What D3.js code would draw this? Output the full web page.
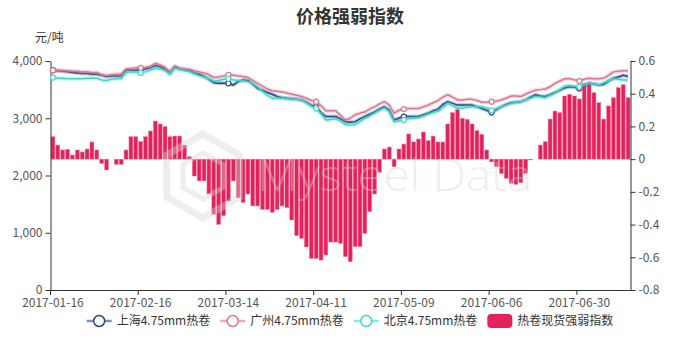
<!DOCTYPE html>
<html><head><meta charset="utf-8">
<script src="https://cdn.jsdelivr.net/npm/d3@7"></script>
<style>
body{margin:0;background:#fff;}
svg{display:block;font-family:"Noto Sans CJK SC","Noto Sans",sans-serif;}
</style>
</head><body>
<svg id="chart" width="700" height="350"></svg>
<script>
const dates = [
"2017-01-16","2017-01-17","2017-01-18","2017-01-19","2017-01-20","2017-01-23","2017-01-24","2017-01-25","2017-01-26","2017-02-03",
"2017-02-06","2017-02-07","2017-02-08","2017-02-09","2017-02-10","2017-02-13","2017-02-14","2017-02-15",
"2017-02-16","2017-02-17","2017-02-20","2017-02-21","2017-02-22","2017-02-23","2017-02-24","2017-02-27","2017-02-28","2017-03-01",
"2017-03-02","2017-03-03","2017-03-06","2017-03-07","2017-03-08","2017-03-09","2017-03-10","2017-03-13",
"2017-03-14","2017-03-15","2017-03-16","2017-03-17","2017-03-20","2017-03-21","2017-03-22","2017-03-23","2017-03-24","2017-03-27",
"2017-03-28","2017-03-29","2017-03-30","2017-03-31","2017-04-05","2017-04-06","2017-04-07","2017-04-10",
"2017-04-11","2017-04-12","2017-04-13","2017-04-14","2017-04-17","2017-04-18","2017-04-19","2017-04-20","2017-04-21","2017-04-24",
"2017-04-25","2017-04-26","2017-04-27","2017-04-28","2017-05-02","2017-05-03","2017-05-04","2017-05-05",
"2017-05-09","2017-05-10","2017-05-11","2017-05-12","2017-05-15","2017-05-16","2017-05-17","2017-05-18","2017-05-19","2017-05-22",
"2017-05-23","2017-05-24","2017-05-25","2017-05-26","2017-05-31","2017-06-01","2017-06-02","2017-06-05",
"2017-06-06","2017-06-07","2017-06-08","2017-06-09","2017-06-12","2017-06-13","2017-06-14","2017-06-15","2017-06-16","2017-06-19",
"2017-06-20","2017-06-21","2017-06-22","2017-06-23","2017-06-26","2017-06-27","2017-06-28","2017-06-29",
"2017-06-30","2017-07-03","2017-07-04","2017-07-05","2017-07-06","2017-07-07","2017-07-10","2017-07-11","2017-07-12","2017-07-13","2017-07-14"
];
const tickLabels = ["2017-01-16","2017-02-16","2017-03-14","2017-04-11","2017-05-09","2017-06-06","2017-06-30"];

const shanghai = [
3840,3830,3820,3810,3800,3790,3780,3780,3770,3770,
3750,3730,3740,3740,3740,3840,3840,3840,3850,3860,
3880,3920,3900,3860,3800,3900,3860,3850,3840,3790,
3770,3730,3680,3620,3610,3610,3610,3580,3640,3670,
3660,3600,3520,3490,3450,3420,3380,3360,3350,3340,
3330,3320,3280,3230,3200,3100,3030,3030,3030,2990,
2940,2930,2940,2990,3030,3070,3110,3160,3200,3140,
2970,3000,3030,3030,3030,3030,3060,3090,3130,3160,
3240,3290,3260,3230,3230,3230,3230,3200,3170,3140,
3100,3150,3200,3240,3270,3280,3290,3320,3370,3410,
3390,3380,3410,3450,3490,3530,3550,3540,3520,3570,
3610,3600,3580,3590,3650,3700,3720,3750,3730];

const guangzhou = [
3840,3840,3830,3830,3820,3820,3810,3810,3800,3800,
3760,3740,3760,3770,3770,3860,3870,3880,3880,3890,
3910,3960,3930,3890,3810,3910,3880,3860,3850,3830,
3810,3790,3760,3710,3720,3740,3760,3750,3740,3730,
3710,3660,3610,3560,3510,3480,3470,3460,3440,3420,
3400,3380,3350,3310,3290,3220,3130,3130,3130,3050,
2970,3000,3060,3090,3110,3160,3200,3250,3290,3230,
3090,3140,3160,3170,3170,3170,3200,3230,3270,3310,
3370,3410,3370,3320,3320,3330,3330,3310,3280,3280,
3290,3300,3320,3350,3390,3390,3380,3420,3460,3490,
3500,3510,3550,3610,3650,3690,3690,3670,3650,3680,
3700,3690,3690,3700,3750,3810,3820,3830,3830];

const beijing = [
3710,3700,3700,3690,3690,3690,3690,3700,3700,3700,
3670,3660,3680,3690,3690,3800,3810,3810,3790,3810,
3840,3870,3860,3830,3760,3870,3850,3830,3810,3780,
3740,3720,3690,3650,3660,3680,3690,3670,3660,3650,
3640,3610,3550,3470,3400,3350,3350,3350,3340,3330,
3330,3320,3270,3210,3170,3080,2970,2980,2990,2950,
2890,2880,2890,2940,3000,3040,3090,3140,3180,3110,
2940,2950,2970,2990,3000,3010,3040,3070,3100,3120,
3190,3260,3220,3170,3180,3190,3200,3200,3200,3180,
3140,3170,3200,3230,3260,3280,3290,3320,3350,3380,
3370,3360,3400,3440,3500,3560,3570,3560,3550,3580,
3610,3600,3580,3620,3660,3690,3680,3670,3670];

const strengthIndex = [
0.137,0.086,0.056,0.060,0.025,0.056,0.044,0.062,0.105,0.056,
-0.026,-0.066,null,-0.032,-0.032,0.056,0.137,0.137,0.107,0.137,
0.172,0.233,0.215,0.199,0.137,0.141,0.141,0.086,0.015,-0.103,
-0.133,-0.133,-0.213,-0.337,-0.399,-0.346,-0.256,-0.133,-0.236,-0.264,
-0.213,-0.286,-0.286,-0.307,-0.307,-0.325,-0.307,-0.286,-0.297,-0.372,
-0.468,-0.484,-0.537,-0.607,-0.607,-0.617,-0.586,-0.507,-0.507,-0.515,
-0.596,-0.627,-0.535,-0.535,-0.454,-0.321,-0.213,-0.081,0.062,0.074,
-0.046,0.062,0.092,0.154,0.105,0.123,0.166,0.113,0.141,0.105,
0.105,0.215,0.284,0.304,0.250,0.243,0.215,0.174,0.152,0.056,
-0.016,-0.046,-0.087,-0.117,-0.148,-0.154,-0.144,-0.087,-0.005,null,
0.086,0.107,0.245,0.294,0.284,0.386,0.396,0.386,0.368,0.464,
0.467,0.406,0.345,0.245,0.325,0.376,0.437,0.455,0.376];

const leftTicks = [0,1000,2000,3000,4000];
const rightTicks = [-0.8,-0.6,-0.4,-0.2,0,0.2,0.4,0.6];
const seriesNames = ["上海4.75mm热卷","广州4.75mm热卷","北京4.75mm热卷","热卷现货强弱指数"];
const titleText = "价格强弱指数";
const unitText = "元/吨";

const colors = {sh:"#2c4486", gz:"#d9778f", bj:"#3dd9c8", bar:"#e3215a"};

const svg = d3.select("#chart");
const W = 700, H = 350;
const plot = {left:50.5, right:630.5, top:61, bottom:290};

// title
svg.append("text").attr("x",W/2).attr("y",23).attr("text-anchor","middle")
  .attr("font-size",18).attr("font-weight","bold").attr("fill","#333").text(titleText);
svg.append("text").attr("x",35).attr("y",42).attr("font-size",12).attr("fill","#333").text(unitText);

const x = d3.scaleBand().domain(dates).range([plot.left, plot.right]).paddingInner(0.2).paddingOuter(0.1);
const step = x.step(), bw = x.bandwidth();
const cx = d => x(d) + bw/2;
const yL = d3.scaleLinear().domain([0,4000]).range([plot.bottom, plot.top]);
const yR = d3.scaleLinear().domain([-0.8,0.6]).range([plot.bottom, plot.top]);

// bars
svg.append("g").selectAll("rect").data(strengthIndex.map((v,i)=>({v,d:dates[i]})).filter(o=>o.v!=null))
  .join("rect")
  .attr("x", o => x(o.d))
  .attr("width", bw)
  .attr("y", o => Math.min(yR(o.v), yR(0)))
  .attr("height", o => Math.max(0.8, Math.abs(yR(o.v)-yR(0))))
  .attr("fill", colors.bar)
  .attr("stroke","#f07a9c").attr("stroke-width",0.5);

// watermark (drawn over the bars, light overlay)
const wm = svg.append("g").attr("opacity",0.4).attr("pointer-events","none");
const hx = 203, hy = 176, hr = 42;
const hex = d3.range(6).map(k => {const a = Math.PI/3*k - Math.PI/2; return [hx+hr*Math.cos(a), hy+hr*Math.sin(a)];});
wm.append("polygon").attr("points", hex.map(p=>p.join(",")).join(" "))
  .attr("fill","none").attr("stroke","#d6d6d6").attr("stroke-width",7);
const hex2 = d3.range(6).map(k => {const a = Math.PI/3*k - Math.PI/2; return [hx+hr*0.55*Math.cos(a), hy+hr*0.55*Math.sin(a)];});
wm.append("polygon").attr("points", hex2.map(p=>p.join(",")).join(" "))
  .attr("fill","none").attr("stroke","#d6d6d6").attr("stroke-width",5);
wm.append("text").attr("x",257).attr("y",191).attr("font-size",44)
  .attr("font-family","'Open Sans',Lato,sans-serif").attr("font-weight",300)
  .attr("textLength",275).attr("lengthAdjust","spacingAndGlyphs")
  .attr("fill","#d6d6d6").text("Mysteel Data");

// axes
const axisColor = "#333", labelColor = "#555";
const gL = svg.append("g").attr("transform",`translate(${plot.left},0)`)
  .call(d3.axisLeft(yL).tickValues(leftTicks).tickFormat(d3.format(",")).tickSize(5).tickSizeOuter(0).tickPadding(3));
const fmtR = d => d === 0 ? "0" : (Math.round(d*10)/10).toFixed(1);
const gR = svg.append("g").attr("transform",`translate(${plot.right},0)`)
  .call(d3.axisRight(yR).tickValues(rightTicks).tickFormat(fmtR).tickSize(5).tickSizeOuter(0).tickPadding(3));
const gB = svg.append("g").attr("transform",`translate(0,${plot.bottom})`)
  .call(d3.axisBottom(x).tickValues(tickLabels).tickSize(5).tickSizeOuter(0).tickPadding(3));
gB.selectAll(".tick line").attr("x1",-step/2).attr("x2",-step/2);
gB.select(".domain").attr("d",`M${plot.left},0.5H${plot.right}`);
[gL,gR,gB].forEach(g=>{
  g.select(".domain").attr("stroke",axisColor);
  g.selectAll(".tick line").attr("stroke",axisColor);
  g.selectAll("text").attr("fill",labelColor).attr("font-size",12)
   .attr("font-family","'Noto Sans CJK SC','Noto Sans',sans-serif");
});

// lines
const series = [
  {name:seriesNames[0], vals:shanghai, color:colors.sh},
  {name:seriesNames[1], vals:guangzhou, color:colors.gz},
  {name:seriesNames[2], vals:beijing, color:colors.bj}
];
const line = d3.line().defined(d=>d!=null).x((d,i)=>cx(dates[i])).y(d=>yL(d));
const markIdx = tickLabels.map(t=>dates.indexOf(t));
series.forEach(s=>{
  const g = svg.append("g");
  g.append("path").attr("d",line(s.vals)).attr("fill","none").attr("stroke",s.color)
    .attr("stroke-width",4).attr("stroke-opacity",0.28).attr("stroke-linejoin","round");
  g.append("path").attr("d",line(s.vals)).attr("fill","none").attr("stroke",s.color)
    .attr("stroke-width",1.5).attr("stroke-linejoin","round");
  g.selectAll("circle").data(markIdx).join("circle")
    .attr("cx",i=>cx(dates[i])).attr("cy",i=>yL(s.vals[i])).attr("r",2.5)
    .attr("fill","#fff").attr("stroke",s.color).attr("stroke-width",1.2);
});

// legend
const lg = svg.append("g");
const items = [
  {name:seriesNames[0], type:"line", color:colors.sh},
  {name:seriesNames[1], type:"line", color:colors.gz},
  {name:seriesNames[2], type:"line", color:colors.bj},
  {name:seriesNames[3], type:"bar", color:colors.bar}
];
let cursor = 0;
const legendY = 321;
items.forEach(it=>{
  const g = lg.append("g").attr("transform",`translate(${cursor},0)`);
  if(it.type==="line"){
    g.append("line").attr("x1",0).attr("x2",25).attr("y1",legendY).attr("y2",legendY)
      .attr("stroke",it.color).attr("stroke-width",2.5).attr("stroke-opacity",0.6);
    g.append("circle").attr("cx",12.5).attr("cy",legendY).attr("r",5.5)
      .attr("fill","#fff").attr("stroke",it.color).attr("stroke-width",1.5);
  } else {
    g.append("rect").attr("x",0).attr("y",legendY-7).attr("width",25).attr("height",14)
      .attr("rx",4).attr("fill",it.color);
  }
  const t = g.append("text").attr("x",30).attr("y",legendY).attr("dy","0.35em")
    .attr("font-size",12).attr("fill","#333").text(it.name);
  cursor += 30 + t.node().getComputedTextLength() + 10;
});
const totalW = cursor - 10;
lg.attr("transform",`translate(${(W-totalW)/2},0)`);
</script>
</body></html>
